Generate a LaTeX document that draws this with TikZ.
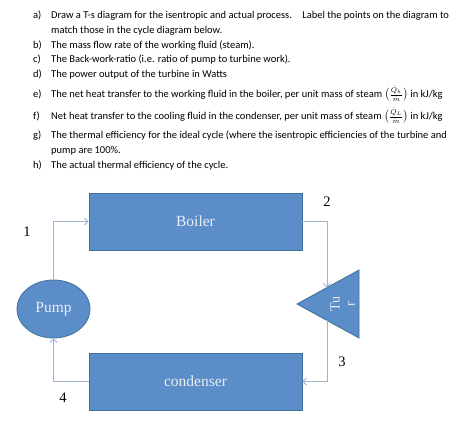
\documentclass[tikz,border=0pt]{standalone}
\usepackage{amsmath}
\usepackage{fontspec}
\setmainfont{Carlito}
\newfontfamily\diagfont{Liberation Serif}
\usetikzlibrary{arrows.meta,calc,shapes.geometric}
\definecolor{unitfill}{HTML}{5B8DC8}
\definecolor{unitline}{HTML}{41719C}
\definecolor{flowline}{HTML}{9DB3CF}
\definecolor{unittext}{HTML}{E8EEF6}
\tikzset{
    item/.style={anchor=base west, inner sep=0pt, font=\fontsize{10.5}{12}\selectfont},
    unit/.style={draw=unitline, fill=unitfill, line width=0.8pt, text=unittext, font=\diagfont\fontsize{15.5}{17}\selectfont},
    flow/.style={draw=flowline, line width=0.9pt, -{Straight Barb[length=3.5pt,width=7pt]}},
    point/.style={font=\diagfont\fontsize{14.5}{16}\selectfont}
}
\begin{document}
\begin{tikzpicture}[x=1pt,y=-1pt]
    \useasboundingbox (0,0) rectangle (474,441);
    % questions
    \node[item] (la) at (33,19) {a)};
    \node[item] (qa) at (51,19) {Draw a T-s diagram for the isentropic and actual process.\quad Label the points on the diagram to};
    \node[item] (qa2) at (51,33.5) {match those in the cycle diagram below.};
    \node[item] (lb) at (33,48.5) {b)};
    \node[item] (qb) at (51,48.5) {The mass flow rate of the working fluid (steam).};
    \node[item] (lc) at (33,63) {c)};
    \node[item] (qc) at (51,63) {The Back-work-ratio (i.e. ratio of pump to turbine work).};
    \node[item] (ld) at (33,77.5) {d)};
    \node[item] (qd) at (51,77.5) {The power output of the turbine in Watts};
    \node[item] (le) at (33,97.5) {e)};
    \node[item] (qe) at (51,97.5) {The net heat transfer to the working fluid in the boiler, per unit mass of steam $\bigl(\tfrac{\dot{Q}_h}{\dot{m}}\bigr)$ in kJ/kg};
    \node[item] (lf) at (33,119.5) {f)};
    \node[item] (qf) at (51,119.5) {Net heat transfer to the cooling fluid in the condenser, per unit mass of steam $\bigl(\tfrac{\dot{Q}_L}{\dot{m}}\bigr)$ in kJ/kg};
    \node[item] (lg) at (33,139) {g)};
    \node[item] (qg) at (51,139) {The thermal efficiency for the ideal cycle (where the isentropic efficiencies of the turbine and};
    \node[item] (qg2) at (51,153.5) {pump are 100\%.};
    \node[item] (lh) at (33,168) {h)};
    \node[item] (qh) at (51,168) {The actual thermal efficiency of the cycle.};
    % cycle
    \node[unit, minimum width=213pt, minimum height=57pt] (boiler) at (195.5,221.5) {Boiler};
    \node[unit, minimum width=213pt, minimum height=57pt] (condenser) at (195.5,381.5) {condenser};
    \node[unit, ellipse, minimum width=73pt, minimum height=58pt, inner sep=0pt] (pump) at (53.5,309) {Pump};
    \coordinate (tapex) at (297,304);
    \coordinate (ttop) at (359,270);
    \coordinate (tbot) at (359,338);
    \draw[unit] (tapex) -- (ttop) -- (tbot) -- cycle;
    \node[text=unittext, font=\diagfont\fontsize{14}{15}\selectfont, rotate=90, align=center, inner sep=0pt] (turbine) at (342.5,304) {Tu\\r};
    \coordinate (tin) at ($(tapex)!0.484!(ttop)$);
    \coordinate (tout) at ($(tapex)!0.484!(tbot)$);
    \draw[flow] (pump.north) |- (boiler.west);
    \draw[flow] (boiler.east) -| (tin);
    \draw[flow] (tout) |- (condenser.east);
    \draw[flow] (condenser.west) -| (pump.south);
    % state points
    \node[point] (p1) at (27,232) {1};
    \node[point] (p2) at (327,202) {2};
    \node[point] (p3) at (342,362) {3};
    \node[point] (p4) at (63,398) {4};
\end{tikzpicture}
\end{document}
